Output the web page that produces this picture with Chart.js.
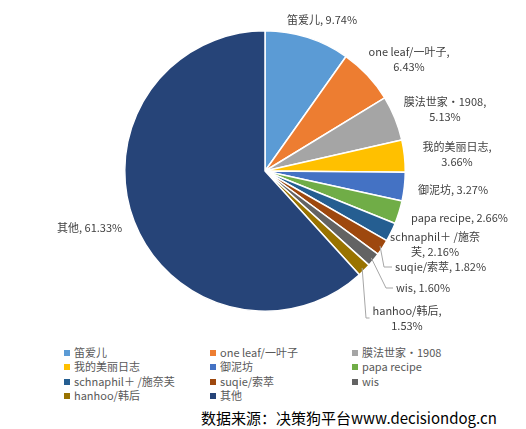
<!DOCTYPE html>
<html><head><meta charset="utf-8">
<script src="https://cdn.jsdelivr.net/npm/chart.js@4"></script>
<style>
body{margin:0;background:#fff;font-family:"Noto Sans CJK SC","Noto Sans",sans-serif;}
#wrap{position:relative;width:526px;height:429px;}
#c{position:absolute;left:0;top:0;}
#legend{position:absolute;left:64px;top:345px;width:450px;font-size:11px;color:#595959;}
.it{position:absolute;white-space:nowrap;line-height:14px;}
.sw{display:inline-block;width:6px;height:6px;margin-right:4px;vertical-align:1px;}
#src{position:absolute;left:201px;top:408px;font-size:15px;line-height:20px;color:#000;white-space:nowrap;}
</style></head><body>
<div id="wrap"><canvas id="c" width="526" height="340"></canvas><div id="legend"></div>
<div id="src">数据来源：决策狗平台www.decisiondog.cn</div></div>
<script>
const categories=["笛爱儿","one leaf/一叶子","膜法世家·1908","我的美丽日志","御泥坊","papa recipe","schnaphil＋ /施奈芙","suqie/索萃","wis","hanhoo/韩后","其他"];
const values=[9.74,6.43,5.13,3.66,3.27,2.66,2.16,1.82,1.60,1.53,61.33];
const colors=["#5B9BD5","#ED7D31","#A5A5A5","#FFC000","#4472C4","#70AD47","#255E91","#9E480E","#636363","#997300","#264478"];
// label layout: [lines, x, y, align, leader elbow x]
const labelLayout=[
 [["笛爱儿, 9.74%"],287,20,"left",null],
 [["one leaf/一叶子,","6.43%"],409,52,"center",null],
 [["膜法世家·1908,","5.13%"],445,102,"center",null],
 [["我的美丽日志,","3.66%"],457,147,"center",null],
 [["御泥坊, 3.27%"],418,190,"left",null],
 [["papa recipe, 2.66%"],411,218,"left",null],
 [["schnaphil＋ /施奈","芙, 2.16%"],435,237,"center",null],
 [["suqie/索萃, 1.82%"],395,267,"left",[384,267]],
 [["wis, 1.60%"],396,288,"left",[386,288]],
 [["hanhoo/韩后,","1.53%"],407,311,"center",[366,318]],
 [["其他, 61.33%"],57,228,"left",null]
];
const lg=document.getElementById('legend');
categories.forEach((c,i)=>{const d=document.createElement('div');d.className='it';
 d.style.left=[0,146,288][i%3]+'px';d.style.top=Math.floor(i/3)*14.3+'px';
 d.innerHTML='<span class="sw" style="background:'+colors[i]+'"></span>'+c;lg.appendChild(d);});
const labels={id:'lbl',afterDraw(ch){const ctx=ch.ctx;const meta=ch.getDatasetMeta(0);
 ctx.save();ctx.font='11px "Noto Sans CJK SC"';ctx.fillStyle='#404040';ctx.textBaseline='middle';
 labelLayout.forEach((L,i)=>{const a=meta.data[i];const m=(a.startAngle+a.endAngle)/2;
  if(L[4]){ctx.strokeStyle='#a6a6a6';ctx.lineWidth=1;ctx.beginPath();
   const sx=a.x+Math.cos(m)*(a.outerRadius-3),sy=a.y+Math.sin(m)*(a.outerRadius-3);
   ctx.moveTo(sx,sy);ctx.lineTo(L[4][0],L[4][1]);
   const tx=L[3]=='center'?L[1]-ctx.measureText(L[0][0]).width/2-3:L[1]-3;
   ctx.lineTo(tx,L[4][1]);ctx.stroke();}
  ctx.textAlign=L[3];L[0].forEach((t,j)=>ctx.fillText(t,L[1],L[2]+j*14.5));});
 ctx.restore();}};
new Chart(document.getElementById('c'),{type:'pie',
 data:{labels:categories,datasets:[{data:values,backgroundColor:colors,borderColor:'#fff',borderWidth:1.5}]},
 options:{responsive:false,animation:false,layout:{padding:{top:30,bottom:28,left:4,right:0}},
  plugins:{legend:{display:false},tooltip:{enabled:false}}},plugins:[labels]});
</script></body></html>
